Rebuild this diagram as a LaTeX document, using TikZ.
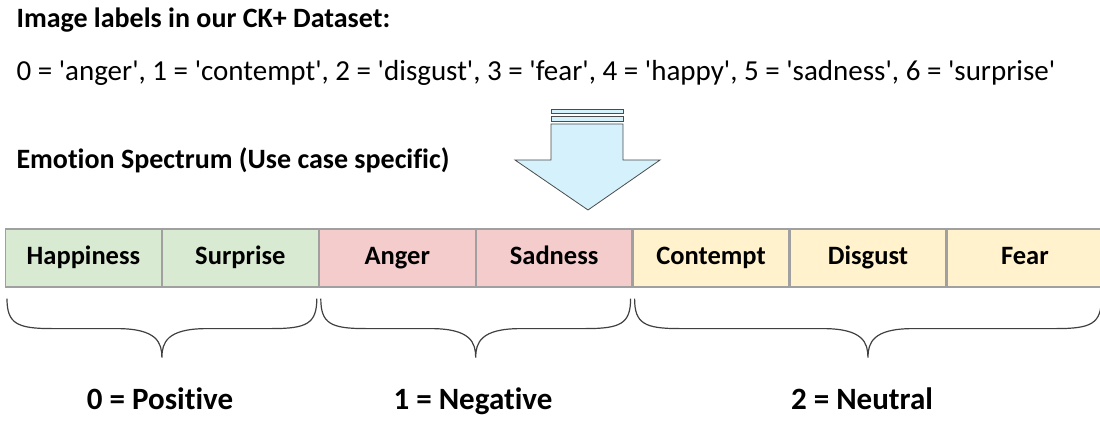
\documentclass[tikz,border=0pt]{standalone}
\usepackage{fontspec}
\setmainfont{Carlito}[Ligatures=NoCommon]
\usetikzlibrary{positioning,calc}
\definecolor{posgreen}{HTML}{D9EAD3}
\definecolor{negred}{HTML}{F4CCCC}
\definecolor{neuyellow}{HTML}{FFF2CC}
\definecolor{arrowblue}{HTML}{D5F1FC}
\definecolor{cellgrey}{HTML}{A0A0A0}
\newcommand{\sq}[1]{\textquotesingle#1\textquotesingle}

\begin{document}
\begin{tikzpicture}[x=1pt,y=-1pt,
    cell/.style={draw=cellgrey,line width=1.2pt,minimum width=155.7pt,minimum height=58pt,
                 inner sep=0pt,text height=18pt,text depth=5pt,
                 font=\fontsize{26.5}{30}\selectfont\bfseries},
    title/.style={anchor=west,font=\fontsize{28}{32}\selectfont\bfseries},
    group/.style={text height=20pt,text depth=6pt,font=\fontsize{31}{36}\selectfont\bfseries},
    brace/.style={draw=black!75,line width=1.2pt}]
  \useasboundingbox (0,0) rectangle (1100,422);

  \node[title] (head)  at (13,20)  {Image labels in our CK+ Dataset:};
  \node[anchor=west,font=\fontsize{29}{34}\selectfont] (list) at (13,73)
    {0 = \sq{anger}, 1 = \sq{contempt}, 2 = \sq{disgust}, 3 = \sq{fear}, 4 = \sq{happy}, 5 = \sq{sadness}, 6 = \sq{surprise}};
  \node[title] (spec)  at (13,160) {Emotion Spectrum (Use case specific)};

  % down arrow
  \draw[black!70,fill=arrowblue,line width=0.8pt] (551,109) rectangle (623,113);
  \draw[black!70,fill=arrowblue,line width=0.8pt] (551,116) rectangle (623,121);
  \draw[black!70,fill=arrowblue,line width=0.8pt]
    (551,124) -- (623,124) -- (623,160) -- (660,160) -- (588,210)
    -- (515,160) -- (551,160) -- cycle;

  % spectrum cells
  \node[cell,fill=posgreen,anchor=west] (happy) at (5,258) {Happiness};
  \node[cell,fill=posgreen,right=0pt of happy]  (surp) {Surprise};
  \node[cell,fill=negred,right=0pt of surp]     (ang)  {Anger};
  \node[cell,fill=negred,right=0pt of ang]      (sad)  {Sadness};
  \node[cell,fill=neuyellow,right=0pt of sad]   (cont) {Contempt};
  \node[cell,fill=neuyellow,right=0pt of cont]  (disg) {Disgust};
  \node[cell,fill=neuyellow,right=0pt of disg]  (fear) {Fear};

  % braces
  \foreach \a/\b/\n in {happy/surp/pos,ang/sad/neg,cont/fear/neu}{
    \coordinate (\n l) at ([xshift=2pt,yshift=-11pt]\a.south west);
    \coordinate (\n r) at ([xshift=-2pt,yshift=-11pt]\b.south east);
    \coordinate (\n m) at ($(\n l)!0.5!(\n r)+(0,59)$);
    \draw[brace] (\n l) .. controls ($(\n l)+(0,25)$) and ($(\n l)+(10,30)$) .. ($(\n l)+(45,30)$)
      -- ($(\n m)+(-45,-29)$) .. controls ($(\n m)+(-5,-29)$) and ($(\n m)+(0,-15)$) .. (\n m)
      .. controls ($(\n m)+(0,-15)$) and ($(\n m)+(5,-29)$) .. ($(\n m)+(45,-29)$)
      -- ($(\n r)+(-45,30)$) .. controls ($(\n r)+(-10,30)$) and ($(\n r)+(0,25)$) .. (\n r);
  }

  \node[group] (poslab) at (160,402) {0 = Positive};
  \node[group] (neglab) at (473,402) {1 = Negative};
  \node[group] (neulab) at (862,402) {2 = Neutral};
\end{tikzpicture}
\end{document}
